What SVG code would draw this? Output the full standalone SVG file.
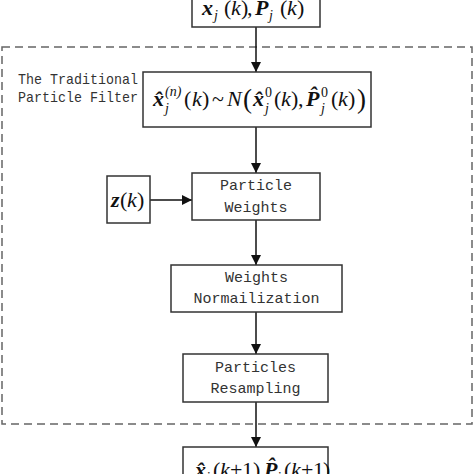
<svg xmlns="http://www.w3.org/2000/svg" width="474" height="474" viewBox="0 0 474 474">
<style>
.box{fill:#fff;stroke:#333;stroke-width:1.5}
.mono{font-family:"Liberation Mono","DejaVu Sans Mono",monospace;font-size:15px;fill:#333;text-anchor:middle}
.lab{font-family:"Liberation Mono","DejaVu Sans Mono",monospace;font-size:15px;fill:#333}
.m{font-family:"Liberation Serif","Times New Roman",serif;font-size:22px;fill:#111}
.bi{font-weight:bold;font-style:italic}
.i{font-style:italic}
.s{font-size:14px;font-style:italic}
.u{font-size:14px}
.c{stroke:#111;stroke-width:1.5;fill:none}
</style>
<defs>
<marker id="ah" markerWidth="10" markerHeight="10" refX="10" refY="5" orient="auto" markerUnits="userSpaceOnUse">
<path d="M0,0 L10,5 L0,10 Z" fill="#111"/>
</marker>
</defs>
<rect id="frame" x="2" y="47" width="470" height="377" fill="none" stroke="#666" stroke-width="1.5" stroke-dasharray="8,5"/>
<text class="lab" x="18" y="84" textLength="120" lengthAdjust="spacingAndGlyphs">The Traditional</text>
<text class="lab" x="18" y="102" textLength="120" lengthAdjust="spacingAndGlyphs">Particle Filter</text>
<g id="connectors">
<line class="c" x1="256" y1="27" x2="256" y2="72" marker-end="url(#ah)"/>
<line class="c" x1="256" y1="127" x2="256" y2="173" marker-end="url(#ah)"/>
<line class="c" x1="150" y1="200" x2="192" y2="200" marker-end="url(#ah)"/>
<line class="c" x1="256" y1="220" x2="256" y2="265" marker-end="url(#ah)"/>
<line class="c" x1="256" y1="312" x2="256" y2="354" marker-end="url(#ah)"/>
<line class="c" x1="256" y1="402" x2="256" y2="447" marker-end="url(#ah)"/>
</g>
<g id="init">
<rect class="box" x="192" y="-20" width="128" height="47"/>
<text class="m" y="15"><tspan class="bi" x="202">x</tspan><tspan class="s" x="214" y="20">j</tspan><tspan x="224" y="15">(</tspan><tspan class="i" x="231">k</tspan><tspan x="241">)</tspan><tspan x="247">,</tspan><tspan class="bi" x="255">P</tspan><tspan class="s" x="269" y="20">j</tspan><tspan x="280" y="15">(</tspan><tspan class="i" x="287">k</tspan><tspan x="297">)</tspan></text>
</g>
<g id="sample">
<rect class="box" x="143" y="72" width="228" height="55"/>
<text class="m" y="106"><tspan class="bi" x="153">x̂</tspan><tspan class="s" x="165" y="96">(n)</tspan><tspan class="s" x="165" y="113">j</tspan><tspan x="184" y="106">(</tspan><tspan class="i" x="192">k</tspan><tspan x="202">)</tspan><tspan x="212">~</tspan><tspan class="i" x="227">N</tspan><tspan x="243" y="108" font-size="27">(</tspan><tspan class="bi" x="253" y="106">x̂</tspan><tspan class="u" x="265" y="97">0</tspan><tspan class="s" x="265" y="113">j</tspan><tspan x="274" y="106">(</tspan><tspan class="i" x="281">k</tspan><tspan x="291">)</tspan><tspan x="298">,</tspan><tspan class="bi" x="306">P̂</tspan><tspan class="u" x="321" y="97">0</tspan><tspan class="s" x="321" y="113">j</tspan><tspan x="331" y="106">(</tspan><tspan class="i" x="338">k</tspan><tspan x="348">)</tspan><tspan x="357" y="108" font-size="27">)</tspan></text>
</g>
<g id="measure">
<rect class="box" x="107" y="176" width="43" height="47"/>
<text class="m" y="207" font-size="20"><tspan class="bi" x="111">z</tspan><tspan x="120">(</tspan><tspan class="i" x="127">k</tspan><tspan x="137">)</tspan></text>
</g>
<g id="weights">
<rect class="box" x="192" y="173" width="128" height="47"/>
<text class="mono" x="256" y="190">Particle</text>
<text class="mono" x="256" y="212">Weights</text>
</g>
<g id="normalize">
<rect class="box" x="171" y="265" width="171" height="47"/>
<text class="mono" x="256.5" y="282">Weights</text>
<text class="mono" x="256.5" y="303">Normailization</text>
</g>
<g id="resample">
<rect class="box" x="183" y="354" width="145" height="48"/>
<text class="mono" x="255.5" y="372">Particles</text>
<text class="mono" x="255.5" y="393">Resampling</text>
</g>
<g id="output">
<rect class="box" x="183" y="447" width="145" height="50"/>
<text class="m" y="477" font-size="21"><tspan class="bi" x="195">x̂</tspan><tspan class="s" x="206" y="482">j</tspan><tspan x="213" y="477">(</tspan><tspan class="i" x="220">k</tspan><tspan x="230">+</tspan><tspan x="242">1</tspan><tspan x="253">)</tspan><tspan x="259">,</tspan><tspan class="bi" x="264">P̂</tspan><tspan class="s" x="277" y="482">j</tspan><tspan x="284" y="477">(</tspan><tspan class="i" x="291">k</tspan><tspan x="301">+</tspan><tspan x="313">1</tspan><tspan x="323">)</tspan></text>
</g>
</svg>
